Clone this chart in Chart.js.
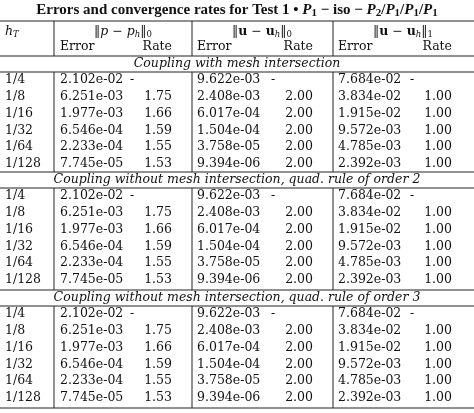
<!DOCTYPE html>
<html><head><meta charset="utf-8">
<script src="https://cdn.jsdelivr.net/npm/chart.js@4/dist/chart.umd.min.js"></script>
<style>html,body{margin:0;padding:0;background:#fff}</style>
</head><body>
<canvas id="c" width="474" height="413"></canvas>
<script>
const hValues = ["1/4","1/8","1/16","1/32","1/64","1/128"];
const pError = ["2.102e-02","6.251e-03","1.977e-03","6.546e-04","2.233e-04","7.745e-05"];
const pRate = ["-","1.75","1.66","1.59","1.55","1.53"];
const u0Error = ["9.622e-03","2.408e-03","6.017e-04","1.504e-04","3.758e-05","9.394e-06"];
const u0Rate = ["-","2.00","2.00","2.00","2.00","2.00"];
const u1Error = ["7.684e-02","3.834e-02","1.915e-02","9.572e-03","4.785e-03","2.392e-03"];
const u1Rate = ["-","1.00","1.00","1.00","1.00","1.00"];
const sections = ["Coupling with mesh intersection",
 "Coupling without mesh intersection, quad. rule of order 2",
 "Coupling without mesh intersection, quad. rule of order 3"];

const SERIF = '"DejaVu Serif","Liberation Serif",serif';
const LSERIF = '"Liberation Serif",serif';
const F = (s, st='') => `${st} ${s}px ${SERIF}`;
const L = (s, st='') => `${st} ${s}px ${LSERIF}`;

function rich(ctx, segs, x, y, align) {
  let w = 0;
  segs.forEach(s => { ctx.font = s.f; w += ctx.measureText(s.t).width; });
  let cx = align === 'center' ? x - w/2 : align === 'right' ? x - w : x;
  ctx.textAlign = 'left'; ctx.textBaseline = 'middle';
  segs.forEach(s => { ctx.font = s.f; ctx.fillText(s.t, cx, y + (s.dy||0)); cx += ctx.measureText(s.t).width; });
}

const tablePlugin = {
  id: 'table',
  afterDraw(chart) {
    const ctx = chart.ctx, X = chart.scales.x, Y = chart.scales.y;
    const px = v => X.getPixelForValue(v), py = v => Y.getPixelForValue(v);
    ctx.save();
    ctx.fillStyle = '#111'; ctx.strokeStyle = '#222';
    const hline = (y, w=1) => { ctx.lineWidth = w; ctx.beginPath(); ctx.moveTo(px(0), py(y)); ctx.lineTo(px(474), py(y)); ctx.stroke(); };
    const vline = (x, y0, y1) => { ctx.lineWidth = 1; ctx.beginPath(); ctx.moveTo(px(x), py(y0)); ctx.lineTo(px(x), py(y1)); ctx.stroke(); };
    const B = L(15,'bold'), BI = L(15,'italic bold'), Bs = L(11,'bold');
    rich(ctx, [{t:'Errors and convergence rates for Test 1 • ',f:B},{t:'P',f:BI},{t:'1',f:Bs,dy:3},
      {t:' − iso − ',f:B},{t:'P',f:BI},{t:'2',f:Bs,dy:3},{t:'/',f:B},{t:'P',f:BI},{t:'1',f:Bs,dy:3},
      {t:'/',f:B},{t:'P',f:BI},{t:'1',f:Bs,dy:3},{t:'/',f:B},{t:'P',f:BI},{t:'1',f:Bs,dy:3}], px(237), py(10), 'center');
    const N = F(12.5), I = F(12.5,'italic'), S = F(8.5), SI = F(8.5,'italic'), BN = F(12.5,'bold');
    hline(21);
    rich(ctx, [{t:'h',f:I},{t:'T',f:SI,dy:3}], px(5), py(32), 'left');
    rich(ctx, [{t:'‖',f:N},{t:'p',f:I},{t:' − ',f:N},{t:'p',f:I},{t:'h',f:SI,dy:3},{t:'‖',f:N},{t:'0',f:S,dy:3}], px(123), py(32), 'center');
    rich(ctx, [{t:'‖',f:N},{t:'u',f:BN},{t:' − ',f:N},{t:'u',f:BN},{t:'h',f:SI,dy:3},{t:'‖',f:N},{t:'0',f:S,dy:3}], px(262), py(32), 'center');
    rich(ctx, [{t:'‖',f:N},{t:'u',f:BN},{t:' − ',f:N},{t:'u',f:BN},{t:'h',f:SI,dy:3},{t:'‖',f:N},{t:'1',f:S,dy:3}], px(403), py(32), 'center');
    const colE = [60,197,338], colR = [172,313,452];
    for (let k=0;k<3;k++){ rich(ctx,[{t:'Error',f:N}],px(colE[k]),py(47),'left'); rich(ctx,[{t:'Rate',f:N}],px(colR[k]),py(47),'right'); }
    vline(54,21,56); vline(192,21,56); vline(333,21,56);
    const secTop = [56,172,290];
    const errs = [pError,u0Error,u1Error], rates = [pRate,u0Rate,u1Rate];
    secTop.forEach((t, s) => {
      hline(t);
      rich(ctx,[{t:sections[s],f:I}],px(237),py(t+8),'center');
      hline(t+16);
      const r0 = t+24, end = s<2 ? secTop[s+1] : 408;
      vline(54,t+16,end); vline(192,t+16,end); vline(333,t+16,end);
      hValues.forEach((h,i) => {
        const y = py(r0 + i*16.8);
        rich(ctx,[{t:h,f:N}],px(5),y,'left');
        for (let k=0;k<3;k++){
          rich(ctx,[{t:errs[k][i],f:N}],px(colE[k]),y,'left');
          const r = rates[k][i];
          if (r==='-') rich(ctx,[{t:'-',f:N}],px(colR[k]-42),y,'left');
          else rich(ctx,[{t:r,f:N}],px(colR[k]),y,'right');
        }
      });
    });
    hline(408);
    ctx.restore();
  }
};

new Chart(document.getElementById('c'), {
  type: 'scatter',
  data: { datasets: [{ data: [] }] },
  options: {
    responsive: false, animation: false,
    layout: { padding: 0 },
    plugins: { legend: {display:false}, tooltip:{enabled:false} },
    scales: {
      x: { type:'linear', min:0, max:474, display:false },
      y: { type:'linear', min:0, max:413, reverse:true, display:false }
    }
  },
  plugins: [tablePlugin]
});
</script>
</body></html>
